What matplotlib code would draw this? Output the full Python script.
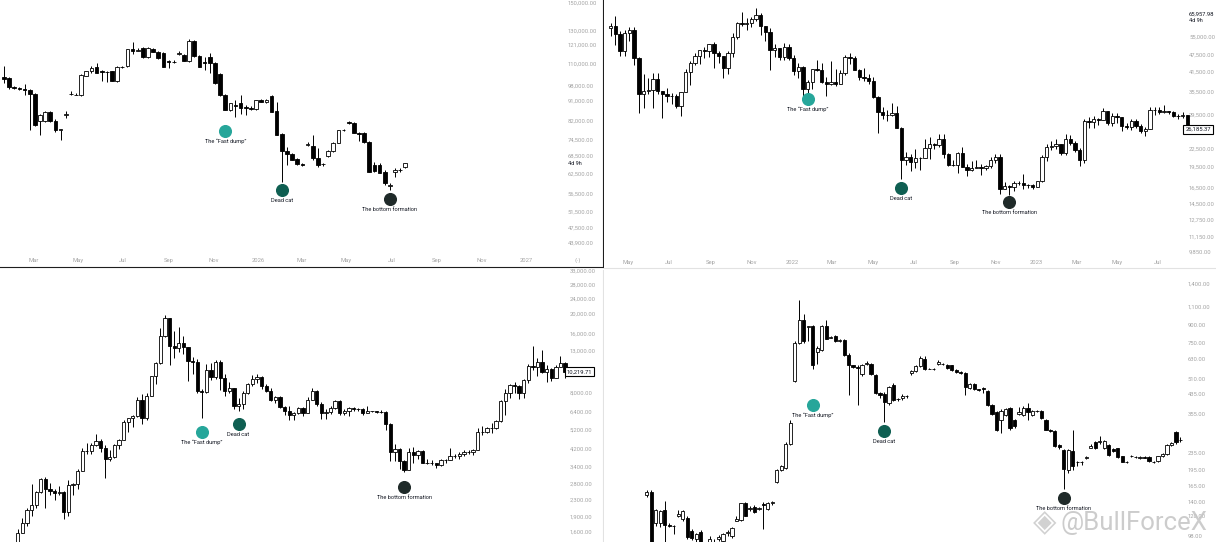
import matplotlib
matplotlib.use("Agg")
import matplotlib.pyplot as plt
import matplotlib.dates as mdates
import matplotlib.ticker as mticker
import numpy as np
import pandas as pd

plt.rcParams["font.family"] = ["Roboto", "DejaVu Sans"]

# ---------------- data (weekly candles: open, high, low, close) ----------------

# top left: 2025 - 2026
tl_start = "2025-01-20"
tl_ohlc = [
    (102600, 108500, 99300, 101500), (102300, 102800, 96500, 97400), (97400, 97800, 96500, 96800),
    (96800, 97300, 95900, 96300), (96300, 99000, 93600, 95800), (95800, 96500, 78200, 93900),
    (93900, 94500, 79800, 80200), (82000, 84800, 76300, 84400), (82000, 86000, 81500, 85600),
    (85600, 86200, 81500, 82000), (82000, 82600, 77600, 78200), (78200, 78800, 74300, 78600),
    (84300, 86000, 83000, 85000), (94000, 95500, 93400, 94300), (93800, 94600, 93400, 93600),
    (93600, 104000, 93000, 103700), (103400, 106000, 103000, 105900), (105800, 108500, 105000, 107500),
    (108000, 110000, 104500, 105000), (105800, 106200, 100300, 105200), (105200, 105800, 100000, 105500),
    (105600, 106000, 100600, 100800), (100400, 108500, 99800, 108200), (108200, 108800, 107500, 108000),
    (108500, 118500, 108200, 118300), (118300, 123000, 115500, 117300), (117400, 119000, 117000, 118000),
    (118800, 119500, 113200, 113600), (113600, 119400, 113000, 118900), (118400, 119000, 116600, 116800),
    (116800, 117200, 112600, 112900), (115800, 116500, 107800, 108200), (111200, 112200, 107500, 110800),
    (111000, 111800, 110300, 110900), (115500, 117000, 115000, 115800), (114700, 115300, 111300, 111600),
    (111600, 124500, 111000, 123200), (123200, 124000, 114000, 114500), (114300, 114800, 107800, 108200),
    (110700, 114000, 106200, 110000), (113800, 116200, 104600, 110200), (110200, 110800, 99000, 99300),
    (104300, 105000, 93200, 93600), (93600, 94000, 86500, 86700), (86700, 89800, 86200, 89600),
    (88800, 91200, 83700, 88300), (89800, 93600, 85000, 87600), (88200, 88800, 84300, 87600),
    (87600, 88500, 86500, 87200), (87000, 91400, 86600, 91000), (91000, 91500, 90200, 90500),
    (90500, 91600, 90000, 91200), (93000, 93600, 85600, 85900), (86200, 90300, 76200, 76400),
    (76600, 77200, 60000, 70400), (70300, 71700, 65500, 69000), (69000, 69500, 67000, 67200),
    (67400, 67800, 65500, 65600), (65600, 66000, 65000, 65400), (72500, 73400, 72200, 72900),
    (72000, 76200, 67000, 67600), (67600, 71200, 64800, 65400), (65800, 66200, 65000, 65600),
    (68400, 70500, 68000, 70300), (70400, 73500, 70000, 73300), (73300, 78400, 73000, 78200),
    (78200, 78600, 77900, 78400), (81500, 82000, 80800, 81200), (81000, 81600, 76900, 77200),
    (77000, 77600, 74000, 76600), (76900, 77300, 73200, 73400), (73400, 73800, 63000, 63200),
    (65300, 66500, 63000, 63300), (65300, 66000, 62600, 62900), (63100, 63700, 59000, 59500),
    (58800, 59500, 57500, 59100), (63000, 64300, 61600, 63600), (63600, 64300, 63200, 63800),
    (64800, 66200, 64500, 65958),
]
tl_notes = [("The “Fast dump”", "2025-11-17", 77800),
            ("Dead cat", "2026-02-02", 57500),
            ("The bottom formation", "2026-06-29", 54900)]
tl_ticks = [150000, 130000, 121000, 110000, 98000, 91000, 82000, 74500,
            68500, 62500, 56500, 51500, 47500, 43900]

# top right: 2021 - 2023
tr_start = "2021-04-05"
tr_ohlc = [
    # 2021
    (58700, 61300, 55500, 59800), (59800, 64900, 51500, 56200), (56200, 57500, 47000, 49100),
    (49100, 58000, 47000, 56600), (56600, 59600, 53000, 58200), (58200, 59600, 43800, 46400),
    (46400, 46600, 30000, 34700), (34700, 40900, 31200, 35700), (35700, 39400, 34800, 35800),
    (35800, 41300, 31000, 39100), (39100, 41300, 34800, 35500), (35500, 35700, 28800, 34700),
    (34700, 36600, 32700, 34200), (34200, 35100, 32100, 34300), (34300, 34800, 31000, 31500),
    (31500, 35400, 29300, 35400), (35400, 42600, 35300, 41500), (41500, 45300, 37500, 44600),
    (44600, 48100, 43800, 47000), (47000, 49400, 44200, 49300), (49300, 50500, 46400, 48900),
    (48900, 51900, 46700, 51800), (51800, 52900, 42800, 48300), (48300, 48900, 44700, 47300),
    (47300, 47300, 39600, 42800), (42800, 49100, 40800, 48200), (48200, 56600, 46900, 54700),
    (54700, 62000, 54000, 61500), (61500, 67000, 59800, 60900), (60900, 63700, 57800, 61300),
    (61300, 64300, 59400, 63300), (63300, 69000, 62300, 65500), (65500, 66300, 55600, 59700),
    (59700, 59900, 53300, 57300), (57300, 59100, 42000, 49400), (49400, 51900, 46800, 50100),
    (50100, 50200, 45600, 46700), (46700, 52100, 45600, 50700), (50700, 52000, 45700, 46200),
    # 2022
    (46200, 47500, 40600, 41800), (41800, 44400, 39600, 43100), (43100, 43500, 34000, 36300),
    (36300, 38900, 34800, 38200), (38200, 42600, 36300, 42400), (42400, 45800, 41700, 42200),
    (42200, 44700, 38000, 38400), (38400, 39800, 34300, 37700), (37700, 45400, 37400, 38400),
    (38400, 42600, 37200, 37800), (37800, 42300, 37600, 41300), (41300, 47400, 40500, 46800),
    (46800, 48200, 44300, 46400), (46400, 47200, 42100, 42200), (42200, 42400, 38900, 39700),
    (39700, 42900, 38500, 39500), (39500, 40800, 37700, 38500), (38500, 40000, 33700, 34100),
    (34100, 34200, 25400, 30100), (30100, 31300, 28600, 29400), (29400, 30600, 28000, 29500),
    (29500, 32300, 29300, 29900), (29900, 31600, 26600, 26600), (26600, 26800, 17600, 20600),
    (20600, 21900, 19700, 21000), (21000, 21500, 18800, 20200), (20200, 22400, 19300, 20800),
    (20800, 21000, 18900, 20800), (20800, 24200, 20800, 22600), (22600, 24700, 20700, 23300),
    (23300, 23600, 22400, 23200), (23200, 25200, 22700, 24300), (24300, 25200, 20800, 21500),
    (21500, 21800, 19600, 19800), (19800, 20600, 19500, 19800), (19800, 21900, 18500, 21800),
    (21800, 22700, 19400, 19400), (19400, 19900, 18100, 19000), (19000, 20400, 18800, 19300),
    (19300, 20500, 19200, 19400), (19400, 19900, 18200, 19200), (19200, 19700, 18900, 19600),
    (19600, 21000, 19300, 20600), (20600, 21500, 20100, 21000), (21000, 21500, 15600, 16300),
    (16300, 17200, 16300, 16700), (16700, 16800, 15500, 16500), (16500, 17400, 16000, 17100),
    (17100, 17400, 16800, 17100), (17100, 18400, 16300, 16800), (16800, 17000, 16400, 16800),
    (16800, 16900, 16300, 16600),
    # 2023
    (16600, 17400, 16500, 17300), (17300, 21400, 17200, 21000), (21000, 23400, 20400, 22700),
    (22700, 23900, 22300, 23000), (23000, 24300, 22500, 23300), (23300, 23400, 21400, 21800),
    (21800, 25200, 21400, 24300), (24300, 25100, 23100, 23500), (23500, 23900, 21900, 22200),
    (22200, 22600, 19600, 20600), (20600, 28500, 20000, 28000), (28000, 28900, 26600, 27900),
    (27900, 29200, 26600, 28400), (28400, 28800, 27200, 28300), (28300, 31000, 28200, 30300),
    (30300, 30400, 27100, 27600), (27600, 30000, 26900, 29200), (29200, 29800, 27700, 28900),
    (28900, 29000, 25800, 26900), (26900, 27600, 26400, 26800), (26800, 28400, 26100, 28100),
    (28100, 28500, 26500, 27000), (27000, 27400, 25400, 25800), (25800, 26800, 24800, 26300),
    (26300, 31400, 26300, 30500), (30500, 31300, 29500, 30600), (30600, 31400, 29700, 30200),
    (30200, 31800, 29900, 30300), (30300, 30400, 29600, 30100), (30100, 30300, 28900, 29300),
    (29300, 29700, 28600, 29100), (29100, 30200, 28700, 29400), (29400, 29500, 25200, 26185),
]
tr_notes = [("The “Fast dump”", "2022-01-24", 33400),
            ("Dead cat", "2022-06-13", 16470),
            ("The bottom formation", "2022-11-21", 14690)]
tr_ticks = [55000, 47500, 41500, 35500, 29500, 22500, 19500, 16500,
            14500, 12750, 11150, 9850]

# bottom left: 2017 - 2019
bl_start = "2017-04-10"
bl_ohlc = [
    # 2017
    (1180, 1210, 1150, 1190), (1190, 1270, 1170, 1250), (1250, 1350, 1240, 1340),
    (1340, 1640, 1340, 1570), (1570, 1860, 1560, 1770), (1770, 2100, 1700, 2050),
    (2050, 2760, 1900, 2180), (2180, 2550, 2100, 2530), (2530, 2980, 2500, 2950),
    (2950, 2990, 2100, 2620), (2620, 2800, 2450, 2550), (2550, 2600, 2300, 2500),
    (2500, 2700, 2450, 2520), (2520, 2550, 1840, 1990), (1990, 2900, 1900, 2740),
    (2740, 2800, 2450, 2760), (2760, 3290, 2630, 3240), (3240, 4200, 3240, 4050),
    (4050, 4480, 3950, 4080), (4080, 4450, 3950, 4370), (4370, 4980, 4300, 4580),
    (4580, 4700, 4000, 4200), (4200, 4340, 2970, 3700), (3700, 4100, 3600, 3780),
    (3780, 4400, 3750, 4380), (4380, 4650, 4150, 4620), (4620, 5850, 4600, 5680),
    (5680, 6000, 5100, 5950), (5950, 6200, 5400, 6130), (6130, 7600, 6050, 7400),
    (7400, 7880, 5550, 5950), (5950, 8000, 5850, 7750), (7750, 9750, 7700, 9700),
    (9700, 11400, 8900, 11250), (11250, 17000, 11200, 15400), (15400, 19700, 15300, 19100),
    (19100, 19200, 11000, 13800), (13800, 16500, 12000, 13400),
    # 2018
    (13400, 17200, 12800, 14200), (14200, 15500, 12500, 13600), (13600, 13700, 9200, 11600),
    (11600, 12200, 10000, 11500), (11500, 11800, 8000, 8200), (8200, 8400, 6000, 8100),
    (8100, 11200, 8000, 10400), (10400, 11300, 9300, 9600), (9600, 11700, 9400, 11500),
    (11500, 11700, 8300, 9500), (9500, 9900, 7700, 8200), (8200, 9100, 8000, 8500),
    (8500, 8500, 6600, 6900), (6900, 7500, 6450, 7000), (7000, 8200, 6600, 8000),
    (8000, 9000, 7900, 8900), (8900, 9800, 8700, 9400), (9400, 9900, 9000, 9600),
    (9600, 9700, 8400, 8700), (8700, 8900, 8100, 8200), (8200, 8500, 7300, 7350),
    (7350, 7750, 7100, 7650), (7650, 7750, 6700, 6750), (6750, 6850, 6150, 6450),
    (6450, 6850, 5800, 6150), (6150, 6400, 5800, 6350), (6350, 6800, 6250, 6700),
    (6700, 6800, 6100, 6350), (6350, 7600, 6300, 7400), (7400, 8500, 7400, 8200),
    (8200, 8250, 6900, 7030), (7030, 7150, 5900, 6300), (6300, 6600, 5900, 6400),
    (6400, 6900, 6250, 6700), (6700, 7400, 6600, 7300), (7300, 7400, 6200, 6300),
    (6300, 6600, 6200, 6500), (6500, 6800, 6100, 6700), (6700, 6800, 6500, 6600),
    (6600, 6700, 6450, 6600), (6600, 6700, 6150, 6300), (6300, 6900, 6300, 6450),
    (6450, 6500, 6400, 6450), (6450, 6500, 6300, 6400), (6400, 6550, 6350, 6400),
    (6400, 6450, 5200, 5550), (5550, 5600, 3600, 4000), (4000, 4400, 3600, 4150),
    (4150, 4200, 3300, 3600), (3600, 3650, 3200, 3250), (3250, 4200, 3250, 4000),
    (4000, 4250, 3550, 3900), (3900, 4100, 3700, 4050),
    # 2019
    (4050, 4100, 3550, 3550), (3550, 3700, 3500, 3550), (3550, 3650, 3450, 3550),
    (3550, 3550, 3350, 3450), (3450, 3700, 3400, 3650), (3650, 3700, 3550, 3650),
    (3650, 4200, 3650, 3850), (3850, 3950, 3750, 3850), (3850, 4000, 3700, 3950),
    (3950, 4100, 3850, 4000), (4000, 4100, 3950, 4000), (4000, 4150, 3900, 4100),
    (4100, 5300, 4100, 5100), (5100, 5450, 4900, 5050), (5050, 5400, 5000, 5300),
    (5300, 5600, 5000, 5300), (5300, 5800, 5250, 5750), (5750, 7350, 5700, 7250),
    (7250, 8350, 6200, 8000), (8000, 8900, 7550, 8750), (8750, 9100, 8000, 8700),
    (8700, 8800, 7450, 8000), (8000, 9350, 7550, 9300), (9300, 11200, 9000, 10950),
    (10950, 13800, 10400, 10800), (10800, 12000, 9700, 11400), (11400, 13200, 10100, 10200),
    (10200, 11100, 9100, 10600), (10600, 10700, 9200, 9500), (9500, 11100, 9450, 10800),
    (10800, 12300, 10800, 11300), (11300, 11500, 9500, 10220),
]
bl_notes = [("The “Fast dump”", "2018-02-05", 5070),
            ("Dead cat", "2018-04-02", 5570),
            ("The bottom formation", "2018-12-10", 2690)]
bl_ticks = [33000, 28000, 24000, 20000, 16000, 13000, 8000, 6400, 5200,
            4200, 3400, 2800, 2300, 1900, 1600]

# bottom right: 2013 - 2015
br_start = "2013-04-01"
br_ohlc = [
    (150, 158, 148, 156), (156, 158, 82, 86), (112, 130, 108, 128), (112, 129, 107, 127),
    (128, 141, 92, 110), (110, 112, 107, 109), (109, 110, 100, 108), (120, 128, 119, 123),
    (117, 128, 115, 127), (118, 121, 95, 97), (103, 105, 94, 96), (95, 101, 92, 100),
    (102, 104, 88, 92), (88, 90, 80, 86), (88, 98, 84, 95), (92, 95, 86, 90),
    (95, 99, 93, 97), (93, 101, 92, 100), (101, 104, 98, 102), (98, 107, 96, 106),
    (115, 120, 114, 117), (116, 139, 114, 138), (138, 140, 120, 121), (130, 134, 127, 131),
    (133, 135, 125, 126), (130, 132, 128, 131), (137, 140, 105, 136), (130, 140, 128, 139),
    (139, 141, 136, 140), (172, 198, 170, 196), (196, 206, 194, 204), (200, 262, 198, 258),
    (258, 330, 255, 320), (500, 760, 495, 750), (750, 1170, 740, 950), (950, 1010, 745, 760),
    (880, 895, 760, 890), (890, 900, 570, 590), (680, 720, 600, 705), (690, 900, 685, 890),
    (890, 950, 775, 780), (790, 805, 785, 798), (800, 815, 755, 760), (765, 780, 755, 770),
    (770, 780, 650, 660), (660, 670, 430, 590), (590, 595, 575, 580), (580, 590, 390, 575),
    (540, 600, 530, 590), (600, 620, 595, 605), (600, 605, 535, 540), (535, 540, 435, 440),
    (440, 445, 420, 430), (435, 445, 325, 400), (395, 475, 390, 470), (480, 490, 405, 410),
    (415, 420, 405, 412), (420, 435, 410, 425), (425, 432, 420, 428), (545, 560, 535, 555),
    (555, 590, 550, 585), (585, 650, 580, 640), (630, 650, 560, 565), (570, 575, 565, 568),
    (568, 572, 562, 566), (600, 625, 595, 610), (600, 605, 595, 598), (595, 600, 570, 575),
    (590, 595, 555, 560), (560, 565, 545, 548), (548, 555, 540, 545), (545, 550, 430, 470),
    (465, 490, 460, 485), (485, 490, 455, 460), (458, 462, 452, 456), (465, 470, 440, 462),
    (450, 455, 385, 388), (388, 392, 350, 355), (360, 365, 295, 300), (330, 372, 290, 365),
    (350, 375, 345, 372), (375, 380, 300, 305), (330, 335, 305, 310), (355, 380, 350, 360),
    (350, 385, 345, 378), (378, 395, 330, 360), (350, 370, 345, 365), (365, 368, 360, 363),
    (365, 368, 335, 340), (332, 336, 298, 300), (300, 302, 292, 296), (295, 298, 250, 252),
    (254, 258, 245, 250), (242, 245, 160, 198), (195, 245, 190, 242), (240, 300, 195, 205),
    (212, 215, 205, 213), (213, 216, 206, 214), (222, 226, 220, 224), (248, 258, 246, 252),
    (262, 265, 245, 248), (262, 280, 258, 265), (248, 268, 245, 265), (255, 258, 228, 230),
    (245, 248, 236, 238), (246, 248, 222, 224), (226, 228, 212, 214), (214, 216, 210, 213),
    (227, 229, 224, 226), (225, 228, 222, 224), (223, 228, 220, 225), (224, 226, 222, 223),
    (225, 228, 213, 215), (214, 216, 210, 213), (215, 228, 213, 227), (226, 235, 224, 233),
    (232, 258, 230, 255), (255, 262, 252, 260), (292, 296, 258, 262), (268, 278, 262, 270),
]
br_notes = [("The “Fast dump”", "2013-12-16", 390),
            ("Dead cat", "2014-04-07", 295),
            ("The bottom formation", "2015-01-12", 146)]
br_ticks = [1400, 1100, 900, 750, 630, 510, 435, 355, 235, 195, 165, 140, 120, 98]

note_colors = ["#26a69a", "#0f5f52", "#1f2a29"]
GREY = "#a4a4a4"
INK = "#131722"

W, H = 1216, 542


def px_rect(x0, y0, x1, y1):
    # pixel box (top-left origin) -> figure fraction
    return [x0 / W, 1 - y1 / H, (x1 - x0) / W, (y1 - y0) / H]


def draw_panel(ax, start, ohlc, notes, ticks, ylim, span, pad):
    dates = pd.date_range(start, periods=len(ohlc), freq="7D")
    x = mdates.date2num(dates)
    o, h, l, c = np.array(ohlc, dtype=float).T
    ax.set_yscale("log")

    # wicks behind, bodies on top (hollow = up week)
    ax.vlines(x, l, h, color="black", lw=0.7, zorder=2)
    face = ["white" if cc >= oo else "black" for oo, cc in zip(o, c)]
    ax.bar(x, np.abs(c - o), bottom=np.minimum(o, c), width=5, color=face,
           edgecolor="black", linewidth=0.6, zorder=3)

    for (txt, day, price), col in zip(notes, note_colors):
        d = mdates.date2num(pd.Timestamp(day))
        ax.plot(d, price, "o", ms=8.4, color=col, mec=col, zorder=5)
        ax.annotate(txt, (d, price), xytext=(0, -7.6), textcoords="offset points",
                    ha="center", va="center", fontsize=4.1, color=INK, zorder=6)

    t0 = pd.Timestamp(start)
    ax.set_xlim(mdates.date2num(t0 + pd.Timedelta(days=span[0])),
                mdates.date2num(t0 + pd.Timedelta(days=span[1])))
    ax.set_ylim(*ylim)

    ax.yaxis.tick_right()
    ax.set_yticks(ticks, [f"{v:,.2f}" for v in ticks])
    ax.yaxis.set_minor_locator(mticker.NullLocator())
    ax.tick_params(axis="y", length=0, pad=pad, labelsize=4.2, labelcolor=GREY)
    ax.set_xticks([])
    for s in ax.spines.values():
        s.set_visible(False)


def month_axis(ax, pad, last_day):
    # every second month, year on January; nothing under the price scale
    cutoff = mdates.date2num(pd.Timestamp(last_day))

    def month_label(x, pos):
        if x > cutoff:
            return ""
        d = mdates.num2date(x)
        return str(d.year) if d.month == 1 else d.strftime("%b")

    ax.xaxis.set_major_locator(mdates.MonthLocator(bymonth=[1, 3, 5, 7, 9, 11]))
    ax.xaxis.set_major_formatter(mticker.FuncFormatter(month_label))
    ax.xaxis.set_minor_locator(mticker.NullLocator())
    ax.tick_params(axis="x", length=0, pad=pad, labelsize=4.2, labelcolor=GREY)


fig = plt.figure(figsize=(12.16, 5.42), dpi=100)
fig.patch.set_facecolor("white")

ax_tl = fig.add_axes(px_rect(0, 0, 603, 267))
ax_tr = fig.add_axes(px_rect(604, 0, 1216, 268))
ax_bl = fig.add_axes(px_rect(0, 270, 603, 542))
ax_br = fig.add_axes(px_rect(604, 270, 1216, 542))

draw_panel(ax_tl, tl_start, tl_ohlc, tl_notes, tl_ticks, (38750, 152300), (-5.4, 815), -25.2)
draw_panel(ax_tr, tr_start, tr_ohlc, tr_notes, tr_ticks, (8670, 73700), (-10.0, 903.6), -19.4)
draw_panel(ax_bl, bl_start, bl_ohlc, bl_notes, bl_ticks, (1412, 33360), (-6.1, 911.7), -23.8)
draw_panel(ax_br, br_start, br_ohlc, br_notes, br_ticks, (91.7, 1611), (-66.8, 888.5), -20.5)

month_axis(ax_tl, -6.8, "2027-02-15")
month_axis(ax_tr, -6.1, "2023-08-01")

# panel borders
ax_tl.spines["right"].set_visible(True)
ax_tl.spines["bottom"].set_visible(True)
ax_tl.spines["right"].set_color("#1e1e1e")
ax_tl.spines["bottom"].set_color("#1e1e1e")
ax_tr.spines["bottom"].set_visible(True)
ax_tr.spines["bottom"].set_color("#e2e2e2")
ax_bl.spines["right"].set_visible(True)
ax_bl.spines["right"].set_color("#e2e2e2")

# price scale extras
ax_tl.text(0.942, tl_ohlc[-1][3], "4d 9h", transform=ax_tl.get_yaxis_transform(),
           ha="left", va="center", fontsize=4.0, color=INK)
ax_tl.text(0.958, 0.026, "(·)", transform=ax_tl.transAxes, ha="center", va="center",
           fontsize=4.2, color=GREY, family="DejaVu Sans")

yt = ax_tr.get_yaxis_transform()
ax_tr.text(0.956, 65957.98, "65,957.98", transform=yt, ha="left", va="center",
           fontsize=4.2, color=INK)
ax_tr.annotate("4d 9h", (0.956, 65957.98), xycoords=yt, xytext=(0, -5),
               textcoords="offset points", ha="left", va="center", fontsize=4.0, color=INK)
ax_tr.text(0.950, 26185.37, "26,185.37", transform=yt, ha="left", va="center",
           fontsize=4.2, color=INK,
           bbox=dict(boxstyle="square,pad=0.35", fc="white", ec="black", lw=0.8))
ax_bl.text(0.940, 10219.71, "10,219.71", transform=ax_bl.get_yaxis_transform(),
           ha="left", va="center", fontsize=4.2, color=INK,
           bbox=dict(boxstyle="square,pad=0.35", fc="white", ec="black", lw=0.8))

# watermark
fig.text(1045 / W, 1 - 523 / H, "◈", fontsize=22, color="#c9c9c9", ha="center",
         va="center", family="DejaVu Sans", alpha=0.85)
fig.text(1061 / W, 1 - 523 / H, "@BullForceX", fontsize=18.5, color="#c4c4c4",
         ha="left", va="center", alpha=0.85)

fig.savefig("out.png", dpi=100, facecolor="white")
